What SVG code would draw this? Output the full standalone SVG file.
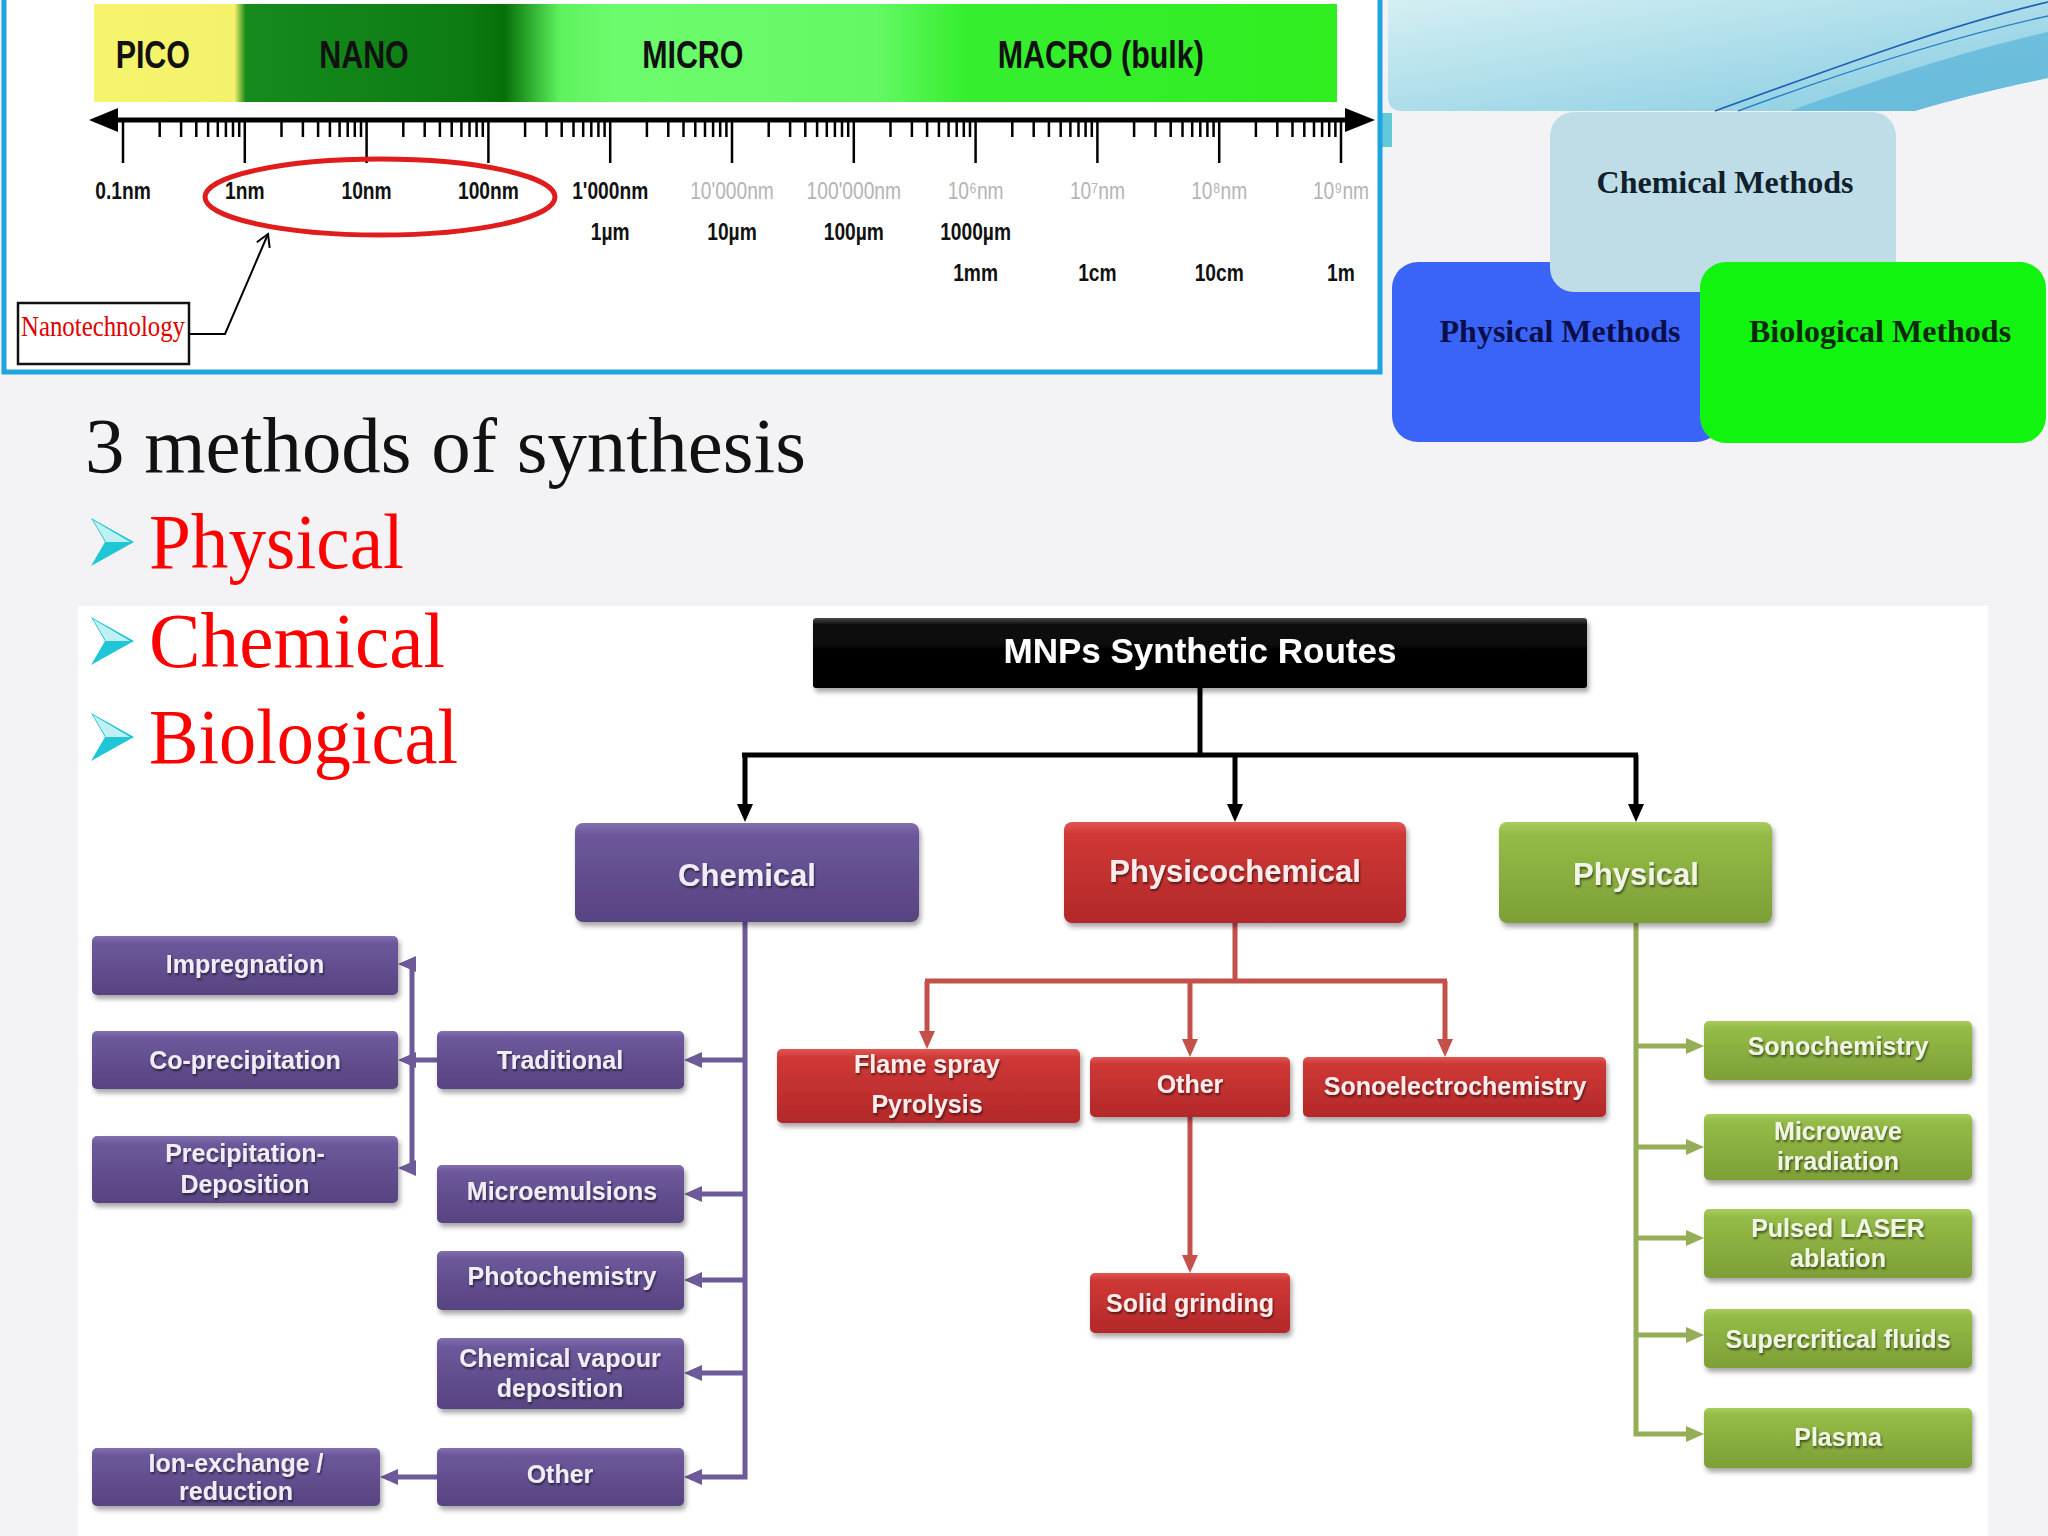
<svg xmlns="http://www.w3.org/2000/svg" width="2048" height="1536" viewBox="0 0 2048 1536">
<defs>
<style>
.sans{font-family:"Liberation Sans",Arial,sans-serif}
.serif{font-family:"Liberation Serif","Times New Roman",serif}
.bt{font-family:"Liberation Sans",Arial,sans-serif;font-weight:bold;font-size:25px;text-anchor:middle}
.pt{fill:#f1edf7}
.rt{fill:#fdeceb}
.gt{fill:#f0f5e4}
.big{font-family:"Liberation Sans",Arial,sans-serif;font-weight:bold;font-size:31px;text-anchor:middle}
.lblk{font-weight:bold;fill:#111}
.lgry{fill:#b4b4b4}
.blk{stroke:#000;stroke-width:5;fill:none}
.pc{stroke:#6c5a99;stroke-width:5;fill:none}
.rc{stroke:#c4504c;stroke-width:5;fill:none}
.gc{stroke:#93ae57;stroke-width:5;fill:none}
.tick{stroke:#000;stroke-width:2.5}
</style>
<linearGradient id="band" x1="0" y1="0" x2="1" y2="0">
<stop offset="0" stop-color="#f6f36c"/>
<stop offset="0.113" stop-color="#f4f26a"/>
<stop offset="0.122" stop-color="#168a1c"/>
<stop offset="0.3" stop-color="#0c7c12"/>
<stop offset="0.33" stop-color="#066f08"/>
<stop offset="0.375" stop-color="#5ef25e"/>
<stop offset="0.42" stop-color="#6cfb6c"/>
<stop offset="0.63" stop-color="#64f864"/>
<stop offset="0.70" stop-color="#36ee30"/>
<stop offset="1" stop-color="#30ee20"/>
</linearGradient>
<linearGradient id="hdr" x1="0" y1="0" x2="1" y2="1">
<stop offset="0" stop-color="#d4eff3"/>
<stop offset="1" stop-color="#84cbe1"/>
</linearGradient>
<linearGradient id="gp" x1="0" y1="0" x2="0" y2="1">
<stop offset="0" stop-color="#8370ad"/>
<stop offset="0.12" stop-color="#6c589b"/>
<stop offset="1" stop-color="#574380"/>
</linearGradient>
<linearGradient id="gr" x1="0" y1="0" x2="0" y2="1">
<stop offset="0" stop-color="#e05652"/>
<stop offset="0.12" stop-color="#cf3835"/>
<stop offset="1" stop-color="#b3282a"/>
</linearGradient>
<linearGradient id="gg" x1="0" y1="0" x2="0" y2="1">
<stop offset="0" stop-color="#a8cc5c"/>
<stop offset="0.12" stop-color="#94bb47"/>
<stop offset="1" stop-color="#7d9f36"/>
</linearGradient>
<linearGradient id="gk" x1="0" y1="0" x2="0" y2="1">
<stop offset="0" stop-color="#4a4a4a"/>
<stop offset="0.1" stop-color="#0a0a0a"/>
<stop offset="1" stop-color="#000"/>
</linearGradient>
<filter id="sh" x="-10%" y="-20%" width="120%" height="150%">
<feDropShadow dx="2" dy="4" stdDeviation="2.5" flood-color="#000" flood-opacity="0.35"/>
</filter>
<filter id="tsh" x="-10%" y="-30%" width="120%" height="160%">
<feDropShadow dx="1" dy="2" stdDeviation="1" flood-color="#000" flood-opacity="0.55"/>
</filter>
<marker id="ak" markerUnits="userSpaceOnUse" markerWidth="18" markerHeight="16" refX="12" refY="8" orient="auto"><path d="M0,0 L18,8 L0,16 Z" fill="#000"/></marker>
<marker id="ap" markerUnits="userSpaceOnUse" markerWidth="18" markerHeight="16" refX="12" refY="8" orient="auto"><path d="M0,0 L18,8 L0,16 Z" fill="#6c5a99"/></marker>
<marker id="ar" markerUnits="userSpaceOnUse" markerWidth="18" markerHeight="16" refX="12" refY="8" orient="auto"><path d="M0,0 L18,8 L0,16 Z" fill="#c4504c"/></marker>
<marker id="ag" markerUnits="userSpaceOnUse" markerWidth="18" markerHeight="16" refX="12" refY="8" orient="auto"><path d="M0,0 L18,8 L0,16 Z" fill="#93ae57"/></marker>
<marker id="ao" markerUnits="userSpaceOnUse" markerWidth="16" markerHeight="16" refX="14" refY="8" orient="auto"><path d="M2,1 L14,8 L2,15" fill="none" stroke="#000" stroke-width="2"/></marker>
<g id="dec">
<path class="tick" d="M36.7,120V137M58.1,120V137M73.3,120V137M85.1,120V137M94.8,120V137M102.9,120V137M110,120V137M116.2,120V137"/>
</g>
<path id="bul" d="M0,-24 L43,0 L0,24 L14,0 Z"/>
</defs>

<rect width="2048" height="1536" fill="#f3f3f5"/>

<!-- diagram background -->
<rect x="78" y="606" width="1910" height="930" fill="#fff"/>

<!-- header decoration -->
<g id="header-deco">
<path d="M1388,0 H2048 V78 C2000,88 1950,100 1915,111 H1402 Q1388,111 1388,97 Z" fill="url(#hdr)"/>
<path d="M1790,111 C1880,78 1975,48 2048,32 V78 C2000,88 1950,100 1915,111 Z" fill="#5db6d9" opacity="0.75"/>
<path d="M1715,111 C1850,62 1950,25 2048,2" stroke="#1c5fb4" stroke-width="1.6" fill="none"/>
<path d="M1738,111 C1860,66 1965,34 2048,16" stroke="#2a7cc4" stroke-width="1.4" fill="none"/>
<rect x="1381" y="113" width="11" height="34" fill="#62c9d9"/>
</g>

<!-- scale panel -->
<g id="scale-panel">
<rect x="4" y="-10" width="1376" height="382" fill="#fff" stroke="#1fa4df" stroke-width="5"/>
<rect x="94" y="4" width="1243" height="98" fill="url(#band)"/>
<g class="sans" font-weight="bold" font-size="38" text-anchor="middle" fill="#111" transform="scale(0.8,1)">
<text x="191" y="68">PICO</text>
<text x="455" y="68">NANO</text>
<text x="866" y="68">MICRO</text>
<text x="1376" y="68">MACRO (bulk)</text>
</g>
<path d="M95,120 H1366" stroke="#000" stroke-width="5"/>
<path d="M89,120 L118,108 L118,132 Z" fill="#000"/>
<path d="M1375,120 L1345,108 L1345,132 Z" fill="#000"/>
<path class="tick" d="M123,120V163M244.8,120V163M366.6,120V163M488.4,120V163M610.2,120V163M732,120V163M853.8,120V163M975.6,120V163M1097.4,120V163M1219.2,120V163M1341,120V163"/>
<use href="#dec" x="123"/>
<use href="#dec" x="244.8"/>
<use href="#dec" x="366.6"/>
<use href="#dec" x="488.4"/>
<use href="#dec" x="610.2"/>
<use href="#dec" x="732"/>
<use href="#dec" x="853.8"/>
<use href="#dec" x="975.6"/>
<use href="#dec" x="1097.4"/>
<use href="#dec" x="1219.2"/>
<g class="sans" font-size="24" text-anchor="middle" transform="scale(0.8,1)">
<text class="lblk" x="153.75" y="199">0.1nm</text>
<text class="lblk" x="306" y="199">1nm</text>
<text class="lblk" x="458.25" y="199">10nm</text>
<text class="lblk" x="610.5" y="199">100nm</text>
<text class="lblk" x="762.75" y="199">1'000nm</text>
<text class="lgry" x="915" y="199">10'000nm</text>
<text class="lgry" x="1067.25" y="199">100'000nm</text>
<text class="lgry" x="1219.5" y="199">10⁶nm</text>
<text class="lgry" x="1371.75" y="199">10⁷nm</text>
<text class="lgry" x="1524" y="199">10⁸nm</text>
<text class="lgry" x="1676.25" y="199">10⁹nm</text>
<text class="lblk" x="762.75" y="240">1µm</text>
<text class="lblk" x="915" y="240">10µm</text>
<text class="lblk" x="1067.25" y="240">100µm</text>
<text class="lblk" x="1219.5" y="240">1000µm</text>
<text class="lblk" x="1219.5" y="281">1mm</text>
<text class="lblk" x="1371.75" y="281">1cm</text>
<text class="lblk" x="1524" y="281">10cm</text>
<text class="lblk" x="1676.25" y="281">1m</text>
</g>
<ellipse cx="380" cy="197" rx="175" ry="38" fill="none" stroke="#e01c1c" stroke-width="5"/>
</g>

<g id="nanotechnology">
<rect x="18" y="303" width="171" height="61" fill="#fff" stroke="#111" stroke-width="2.5"/>
<text class="serif" x="103" y="336" font-size="30" text-anchor="middle" fill="#e00000" textLength="164" lengthAdjust="spacingAndGlyphs">Nanotechnology</text>
</g>
<g id="nano-connector">
<path d="M189,334 H225 L268,234" fill="none" stroke="#000" stroke-width="2" marker-end="url(#ao)"/>
</g>

<!-- three methods graphic -->
<g id="physical-methods">
<rect x="1392" y="262" width="330" height="180" rx="26" fill="#3a64f8"/>
<text class="serif" x="1560" y="342" font-size="32" font-weight="bold" text-anchor="middle" fill="#0a0f4a">Physical Methods</text>
</g>
<g id="chemical-methods">
<rect x="1550" y="112" width="346" height="180" rx="24" fill="#bedde7"/>
<text class="serif" x="1725" y="193" font-size="32" font-weight="bold" text-anchor="middle" fill="#10202c">Chemical Methods</text>
</g>
<g id="biological-methods">
<rect x="1700" y="262" width="346" height="181" rx="26" fill="#10f410"/>
<text class="serif" x="1880" y="342" font-size="32" font-weight="bold" text-anchor="middle" fill="#0a2a0a">Biological Methods</text>
</g>

<!-- heading and bullets -->
<g id="title">
<text class="serif" x="85" y="472" font-size="78" fill="#111" textLength="721" lengthAdjust="spacingAndGlyphs">3 methods of synthesis</text>
</g>
<g id="bullets">
<use href="#bul" x="91" y="542" fill="#1fc6d6"/>
<use href="#bul" x="91" y="641" fill="#1fc6d6"/>
<use href="#bul" x="91" y="737" fill="#1fc6d6"/>
<path d="M93,520 L130,542 L106,542 Z M93,619 L130,641 L106,641 Z M93,715 L130,737 L106,737 Z" fill="#bff0f4"/>
<text class="serif" x="149" y="568" font-size="78" fill="#ff0000" textLength="255" lengthAdjust="spacingAndGlyphs">Physical</text>
<text class="serif" x="149" y="667" font-size="78" fill="#ff0000" textLength="296" lengthAdjust="spacingAndGlyphs">Chemical</text>
<text class="serif" x="149" y="763" font-size="78" fill="#ff0000" textLength="309" lengthAdjust="spacingAndGlyphs">Biological</text>
</g>

<!-- connectors -->
<g id="connectors">
<path class="blk" d="M1200,688 V755 M742,755 H1638"/>
<path class="blk" d="M745,755 V816" marker-end="url(#ak)"/>
<path class="blk" d="M1235,755 V816" marker-end="url(#ak)"/>
<path class="blk" d="M1636,755 V816" marker-end="url(#ak)"/>

<path class="pc" d="M745,922 V1477 H690" marker-end="url(#ap)"/>
<path class="pc" d="M745,1060 H690" marker-end="url(#ap)"/>
<path class="pc" d="M745,1194 H690" marker-end="url(#ap)"/>
<path class="pc" d="M745,1280 H690" marker-end="url(#ap)"/>
<path class="pc" d="M745,1373 H690" marker-end="url(#ap)"/>
<path class="pc" d="M437,1060 H404" marker-end="url(#ap)"/>
<path class="pc" d="M412,1060 V964 H404" marker-end="url(#ap)"/>
<path class="pc" d="M412,1060 V1168 H404" marker-end="url(#ap)"/>
<path class="pc" d="M437,1477 H386" marker-end="url(#ap)"/>

<path class="rc" d="M1235,923 V981 M925,981 H1447"/>
<path class="rc" d="M927,981 V1043" marker-end="url(#ar)"/>
<path class="rc" d="M1190,981 V1051" marker-end="url(#ar)"/>
<path class="rc" d="M1445,981 V1051" marker-end="url(#ar)"/>
<path class="rc" d="M1190,1117 V1267" marker-end="url(#ar)"/>

<path class="gc" d="M1636,923 V1434 H1698" marker-end="url(#ag)"/>
<path class="gc" d="M1636,1046 H1698" marker-end="url(#ag)"/>
<path class="gc" d="M1636,1147 H1698" marker-end="url(#ag)"/>
<path class="gc" d="M1636,1238 H1698" marker-end="url(#ag)"/>
<path class="gc" d="M1636,1335 H1698" marker-end="url(#ag)"/>
</g>

<!-- nodes -->
<g id="mnps">
<rect x="813" y="618" width="774" height="70" rx="3" fill="url(#gk)" filter="url(#sh)"/>
<text class="sans" x="1200" y="663" font-size="35" font-weight="bold" text-anchor="middle" fill="#fff" filter="url(#tsh)">MNPs Synthetic Routes</text>
</g>
<g id="chemical">
<rect x="575" y="823" width="344" height="99" rx="8" fill="url(#gp)" filter="url(#sh)"/>
<text class="big pt" x="747" y="886" filter="url(#tsh)">Chemical</text>
</g>
<g id="physicochemical">
<rect x="1064" y="822" width="342" height="101" rx="8" fill="url(#gr)" filter="url(#sh)"/>
<text class="big rt" x="1235" y="882" filter="url(#tsh)">Physicochemical</text>
</g>
<g id="physical">
<rect x="1499" y="822" width="273" height="101" rx="8" fill="url(#gg)" filter="url(#sh)"/>
<text class="big gt" x="1636" y="885" filter="url(#tsh)">Physical</text>
</g>

<g id="impregnation">
<rect x="92" y="936" width="306" height="59" rx="5" fill="url(#gp)" filter="url(#sh)"/>
<text class="bt pt" x="245" y="973" filter="url(#tsh)">Impregnation</text>
</g>
<g id="co-precipitation">
<rect x="92" y="1031" width="306" height="58" rx="5" fill="url(#gp)" filter="url(#sh)"/>
<text class="bt pt" x="245" y="1069" filter="url(#tsh)">Co-precipitation</text>
</g>
<g id="precipitation-deposition">
<rect x="92" y="1136" width="306" height="67" rx="5" fill="url(#gp)" filter="url(#sh)"/>
<text class="bt pt" x="245" y="1162" filter="url(#tsh)">Precipitation-</text>
<text class="bt pt" x="245" y="1193" filter="url(#tsh)">Deposition</text>
</g>
<g id="traditional">
<rect x="437" y="1031" width="247" height="58" rx="5" fill="url(#gp)" filter="url(#sh)"/>
<text class="bt pt" x="560" y="1069" filter="url(#tsh)">Traditional</text>
</g>
<g id="microemulsions">
<rect x="437" y="1165" width="247" height="58" rx="5" fill="url(#gp)" filter="url(#sh)"/>
<text class="bt pt" x="562" y="1200" filter="url(#tsh)">Microemulsions</text>
</g>
<g id="photochemistry">
<rect x="437" y="1251" width="247" height="59" rx="5" fill="url(#gp)" filter="url(#sh)"/>
<text class="bt pt" x="562" y="1285" filter="url(#tsh)">Photochemistry</text>
</g>
<g id="cvd">
<rect x="437" y="1338" width="247" height="71" rx="5" fill="url(#gp)" filter="url(#sh)"/>
<text class="bt pt" x="560" y="1367" filter="url(#tsh)">Chemical vapour</text>
<text class="bt pt" x="560" y="1397" filter="url(#tsh)">deposition</text>
</g>
<g id="chem-other">
<rect x="437" y="1448" width="247" height="58" rx="5" fill="url(#gp)" filter="url(#sh)"/>
<text class="bt pt" x="560" y="1483" filter="url(#tsh)">Other</text>
</g>
<g id="ion-exchange">
<rect x="92" y="1448" width="288" height="58" rx="5" fill="url(#gp)" filter="url(#sh)"/>
<text class="bt pt" x="236" y="1472" filter="url(#tsh)">Ion-exchange /</text>
<text class="bt pt" x="236" y="1500" filter="url(#tsh)">reduction</text>
</g>

<g id="flame-spray">
<rect x="777" y="1049" width="303" height="74" rx="5" fill="url(#gr)" filter="url(#sh)"/>
<text class="bt rt" x="927" y="1073" filter="url(#tsh)">Flame spray</text>
<text class="bt rt" x="927" y="1113" filter="url(#tsh)">Pyrolysis</text>
</g>
<g id="phys-other">
<rect x="1090" y="1057" width="200" height="60" rx="5" fill="url(#gr)" filter="url(#sh)"/>
<text class="bt rt" x="1190" y="1093" filter="url(#tsh)">Other</text>
</g>
<g id="sonoelectrochemistry">
<rect x="1303" y="1057" width="303" height="60" rx="5" fill="url(#gr)" filter="url(#sh)"/>
<text class="bt rt" x="1455" y="1095" filter="url(#tsh)">Sonoelectrochemistry</text>
</g>
<g id="solid-grinding">
<rect x="1090" y="1273" width="200" height="60" rx="5" fill="url(#gr)" filter="url(#sh)"/>
<text class="bt rt" x="1190" y="1312" filter="url(#tsh)">Solid grinding</text>
</g>

<g id="sonochemistry">
<rect x="1704" y="1021" width="268" height="59" rx="5" fill="url(#gg)" filter="url(#sh)"/>
<text class="bt gt" x="1838" y="1055" filter="url(#tsh)">Sonochemistry</text>
</g>
<g id="microwave">
<rect x="1704" y="1114" width="268" height="66" rx="5" fill="url(#gg)" filter="url(#sh)"/>
<text class="bt gt" x="1838" y="1140" filter="url(#tsh)">Microwave</text>
<text class="bt gt" x="1838" y="1170" filter="url(#tsh)">irradiation</text>
</g>
<g id="pulsed-laser">
<rect x="1704" y="1209" width="268" height="69" rx="5" fill="url(#gg)" filter="url(#sh)"/>
<text class="bt gt" x="1838" y="1237" filter="url(#tsh)">Pulsed LASER</text>
<text class="bt gt" x="1838" y="1267" filter="url(#tsh)">ablation</text>
</g>
<g id="supercritical">
<rect x="1704" y="1309" width="268" height="59" rx="5" fill="url(#gg)" filter="url(#sh)"/>
<text class="bt gt" x="1838" y="1348" filter="url(#tsh)">Supercritical fluids</text>
</g>
<g id="plasma">
<rect x="1704" y="1408" width="268" height="60" rx="5" fill="url(#gg)" filter="url(#sh)"/>
<text class="bt gt" x="1838" y="1446" filter="url(#tsh)">Plasma</text>
</g>
</svg>
